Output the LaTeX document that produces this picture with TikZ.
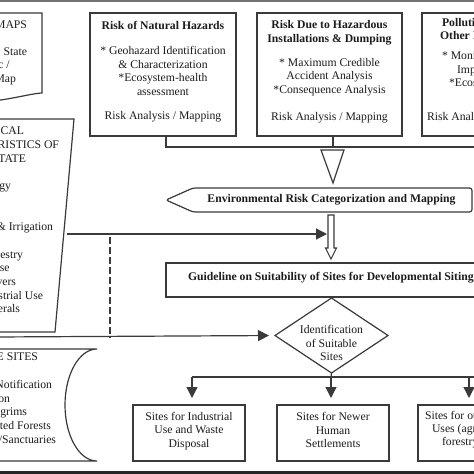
\documentclass[tikz,border=0pt]{standalone}
\usepackage{fontspec}
\setmainfont{Liberation Serif}
\usetikzlibrary{shapes.geometric,arrows.meta}
\definecolor{ln}{HTML}{3A3A3A}
\definecolor{tx}{HTML}{1C1C1C}
\begin{document}
\begin{tikzpicture}[x=1pt,y=-1pt,
  every node/.style={inner sep=0pt,outer sep=0pt,text=tx},
  ft/.style={font=\fontsize{11.7}{13.5}\selectfont},
  bft/.style={font=\bfseries\fontsize{11.7}{14}\selectfont},
  one/.style={text height=8.3pt,text depth=2.4pt},
  lne/.style={draw=ln,line width=1.2pt},
  boxr/.style={draw=ln,line width=1.2pt,rectangle,anchor=north west},
  arr/.style={draw=ln,line width=1.2pt,-{Triangle[length=11pt,width=11pt]}}
]
\useasboundingbox (0,0) rectangle (474,474);
\clip (0,0) rectangle (474,474);
\fill[white] (0,0) rectangle (474,474);

% frame
\coordinate (ftl) at (-5,1); \coordinate (ftr) at (480,1);
\draw[draw=black!55,line width=1.8pt] (ftl) -- (ftr);
\coordinate (fbl) at (-5,472); \coordinate (fbr) at (480,472);
\draw[draw=black!85,line width=3pt] (fbl) -- (fbr);

% ---- left: maps document shape
\draw[lne] (-20,13) -- (42,13) -- (42,93) .. controls (30,93.5) and (6,101) .. (-20,102);
\node[ft,one,anchor=east] (m1) at (27,26) {BASE MAPS};
\node[ft,one,anchor=east] (m2) at (27,53) {* State};
\node[ft,one,anchor=east] (m3) at (9.5,66) {Topographic /};
\node[ft,one,anchor=east] (m4) at (16,80) {Land-use Map};

% ---- left: local characteristics
\draw[lne] (-20,119) -- (74,119) -- (55,332) -- (-20,332);
\node[ft,one,anchor=east] (l1) at (24,132) {LOCAL};
\node[ft,one,anchor=east] (l2) at (59,146) {CHARACTERISTICS OF};
\node[ft,one,anchor=east] (l3) at (26,160) {THE STATE};
\node[ft,one,anchor=east] (l4) at (11,187) {Geology};
\node[ft,one,anchor=east] (l5) at (53,228) {Agriculture \& Irrigation};
\node[ft,one,anchor=east] (l6) at (23,256) {Forestry};
\node[ft,one,anchor=east] (l7) at (9.5,269) {Land Use};
\node[ft,one,anchor=east] (l8) at (16,283) {Rivers};
\node[ft,one,anchor=east] (l9) at (43,297) {Industrial Use};
\node[ft,one,anchor=east] (l10) at (20,310) {Minerals};

% ---- left: sensitive sites stored-data shape
\draw[lne] (-20,349) -- (97,349) .. controls (79.3,349) and (65,374.1) .. (65,405)
  .. controls (65,435.9) and (79.3,461) .. (97,461) -- (-20,461);
\node[ft,one,anchor=east] (s1) at (38,358) {SENSITIVE SITES};
\node[ft,one,anchor=east] (s2) at (52,386) {Notification};
\node[ft,one,anchor=east] (s3) at (10,399.5) {Religion};
\node[ft,one,anchor=east] (s4) at (27,413) {Pilgrims};
\node[ft,one,anchor=east] (s5) at (51,427) {Protected Forests};
\node[ft,one,anchor=east] (s6) at (56,440.5) {Parks/Sanctuaries};

% ---- top boxes
\node[boxr,minimum width=146pt,minimum height=123pt] (nh) at (90,13) {};
\node[bft,one] (nh1) at (163,27) {Risk of Natural Hazards};
\node[ft,align=center] (nh2) at (163,71) {* Geohazard Identification\\\& Characterization\\*Ecosystem-health\\assessment};
\node[ft,one] (nh3) at (163,117) {Risk Analysis / Mapping};

\node[boxr,minimum width=145pt,minimum height=123pt] (hz) at (257,13) {};
\node[bft,align=center] (hz1) at (329.5,33) {Risk Due to Hazardous\\Installations \& Dumping};
\node[ft,align=center] (hz2) at (329.5,77) {* Maximum Credible\\Accident Analysis\\*Consequence Analysis};
\node[ft,one] (hz3) at (329.5,118) {Risk Analysis / Mapping};

\node[boxr,minimum width=145pt,minimum height=123pt] (po) at (422,13) {};
\node[bft,one,anchor=west] (po1) at (442,23.5) {Pollution Risk from};
\node[bft,one,anchor=west] (po2) at (440,37) {Other Industries};
\node[ft,one,anchor=west] (po3) at (442,57) {* Monitoring of};
\node[ft,one,anchor=west] (po4) at (457,71) {Impacts};
\node[ft,one,anchor=west] (po5) at (449,84) {*Ecosystem-health};
\node[ft,one,anchor=west] (po6) at (427,118) {Risk Analysis / Mapping};

% collector line
\coordinate (j1) at (166,147);
\coordinate (j2) at (333,147);
\coordinate (jr) at (480,147);
\draw[lne] (nh.south -| j1) -- (j1) -- (jr);
\draw[lne] (hz.south -| j2) -- (j2);

% big open triangle
\coordinate (ta) at (321,150); \coordinate (tb) at (344,150); \coordinate (tc) at (333,183);
\draw[lne,fill=white,line join=miter] (ta) -- (tb) -- (tc) -- cycle;

% environmental risk pentagon
\coordinate (p1) at (166,200); \coordinate (p2) at (193,188); \coordinate (p3) at (472,188);
\coordinate (p4) at (472,212); \coordinate (p5) at (193,212);
\draw[lne,rounded corners=2.5pt] (p1) -- (p2) -- (p3) -- (p4) -- (p5) -- cycle;
\node[bft,one] (erc) at (331.5,200) {Environmental Risk Categorization and Mapping};

% hollow thick arrow
\coordinate (h1) at (328,215); \coordinate (h2) at (334,215); \coordinate (h3) at (334,248);
\coordinate (h4) at (336.5,248); \coordinate (h5) at (331,259); \coordinate (h6) at (325.5,248);
\coordinate (h7) at (328,248);
\draw[draw=ln,line width=1.1pt,fill=white] (h1) -- (h2) -- (h3) -- (h4) -- (h5) -- (h6) -- (h7) -- cycle;

% guideline box
\node[boxr,minimum width=330pt,minimum height=34pt] (gd) at (166,263) {};
\node[bft,one,anchor=west] (gdt) at (188,278) {Guideline on Suitability of Sites for Developmental Siting};

% arrow from local characteristics
\coordinate (la) at (67,234); \coordinate (lb) at (327,234);
\draw[arr] (la) -- (lb);
% dashed link
\coordinate (d1) at (110,236.5); \coordinate (d2) at (110,337);
\draw[lne,dash pattern=on 7pt off 3pt] (d1) -- (d2);

% diamond
\node[diamond,draw=ln,line width=1.2pt,minimum width=113pt,minimum height=75pt,inner sep=0pt] (dia) at (331.5,335.5) {};
\node[ft,align=center] (diat) at (331.5,343) {Identification\\of Suitable\\Sites};
\coordinate (sl) at (-5,337);
\draw[arr,shorten >=6pt] (sl) -- (dia.west);

% distribution
\coordinate (hb) at (331,377);
\coordinate (a1) at (192,377); \coordinate (a3) at (469,377); \coordinate (ar) at (480,377);
\draw[lne] (dia.south) -- (hb);
\draw[lne] (a1) -- (ar);

% bottom boxes
\node[boxr,minimum width=112pt,minimum height=56pt] (sa) at (133,405) {};
\node[boxr,minimum width=112pt,minimum height=56pt] (sb) at (277,405) {};
\node[boxr,minimum width=112pt,minimum height=56pt] (sc) at (418,405) {};
\draw[arr,shorten >=7pt] (a1) -- (a1 |- sa.north);
\draw[arr,shorten >=7pt] (hb) -- (hb |- sb.north);
\draw[arr,shorten >=7pt] (a3) -- (a3 |- sc.north);

\node[ft,align=center] (sat) at (189,431) {Sites for Industrial\\Use and Waste\\Disposal};
\node[ft,align=center] (sbt) at (333,430) {Sites for Newer\\Human\\Settlements};
\node[ft,one,anchor=west] (sc1) at (425,417) {Sites for other};
\node[ft,one,anchor=west] (sc2) at (432,430) {Uses (agriculture,};
\node[ft,one,anchor=west] (sc3) at (442,443) {forestry etc.)};
\end{tikzpicture}
\end{document}
